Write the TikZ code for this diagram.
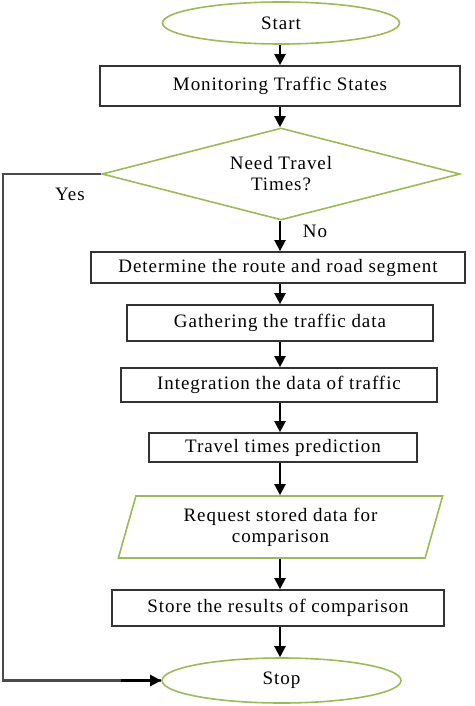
\documentclass[tikz,border=0pt]{standalone}
\usepackage{fontspec}
\setmainfont{Liberation Serif}[LetterSpace=5]
\usetikzlibrary{shapes.geometric,arrows.meta}
\definecolor{grn}{HTML}{9BBB59}
\definecolor{boxcol}{HTML}{333333}
\definecolor{yescol}{HTML}{4A4A4A}
\newcommand{\fs}{\fontsize{19}{21}\selectfont}
\begin{document}
\begin{tikzpicture}[x=1pt,y=-1pt,
  proc/.style={draw=boxcol, line width=1.7pt, rectangle, inner sep=0pt, font=\fs, align=center},
  term/.style={draw=grn, line width=1.6pt, ellipse, inner sep=0pt, font=\fs},
  decision/.style={draw=grn, line width=1.6pt, diamond, aspect=3.9, inner sep=0pt, font=\fs, align=center},
  iobox/.style={draw=grn, line width=1.6pt, trapezium, trapezium left angle=73, trapezium right angle=107, trapezium stretches=true, inner sep=0pt, font=\fs, align=center},
  arr/.style={-{Triangle[length=11pt,width=11pt]}, line width=2.2pt, black},
  lbl/.style={font=\fs, inner sep=0pt}]
\useasboundingbox (0,0) rectangle (474,706);
\node[term, minimum width=237pt, minimum height=42pt] (start) at (281,23) {Start};
\node[proc, minimum width=360pt, minimum height=40pt] (mon) at (280,86) {Monitoring Traffic States};
\node[decision, minimum width=358pt, minimum height=92pt] (dec) at (281,174) {Need Travel\\Times?};
\node[proc, minimum width=374pt, minimum height=31pt] (det) at (278,267.5) {Determine the route and road segment};
\node[proc, minimum width=306pt, minimum height=36pt] (gat) at (280,323) {Gathering the traffic data};
\node[proc, minimum width=316pt, minimum height=34pt] (int) at (279,385) {Integration the data of traffic};
\node[proc, minimum width=268pt, minimum height=29pt] (tra) at (283,447.5) {Travel times prediction};
\node[iobox, minimum width=325pt, minimum height=62pt] (req) at (280.5,527) {Request stored data for\\comparison};
\node[proc, minimum width=332pt, minimum height=36pt] (sto) at (278,608) {Store the results of comparison};
\node[term, minimum width=239pt, minimum height=45pt] (stop) at (281.5,680.5) {Stop};
\node[lbl] (yes) at (70,194) {Yes};
\node[lbl] (no) at (315,231) {No};
\coordinate (lft) at (3,0);
\coordinate (ax) at (280,0);
\draw[arr] (start.south -| ax) -- (mon.north -| ax);
\draw[arr] (mon.south -| ax) -- (dec.north -| ax);
\draw[arr] (dec.south -| ax) -- (det.north -| ax);
\draw[arr] (det.south -| ax) -- (gat.north -| ax);
\draw[arr] (gat.south -| ax) -- (int.north -| ax);
\draw[arr] (int.south -| ax) -- (tra.north -| ax);
\draw[arr] (tra.south -| ax) -- (req.north -| ax);
\draw[arr] (req.south -| ax) -- (sto.north -| ax);
\draw[arr] (sto.south -| ax) -- (stop.north -| ax);
\draw[line width=2.2pt, yescol] (dec.west) -- (dec.west -| lft) -- (stop.west -| lft) -- (stop.west);
\draw[arr] ([xshift=-40pt]stop.west) -- (stop.west);
\end{tikzpicture}
\end{document}
